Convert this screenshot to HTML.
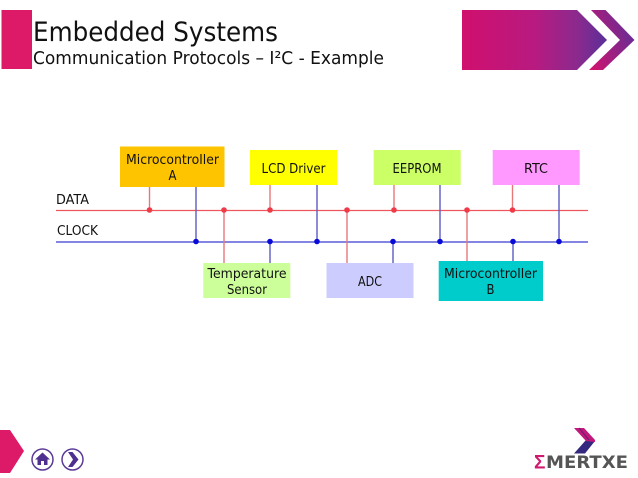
<!DOCTYPE html>
<html>
<head>
<meta charset="utf-8">
<style>
html,body{margin:0;padding:0;background:#fff;width:638px;height:478px;overflow:hidden}
svg{display:block}
text{font-family:"DejaVu Sans","Liberation Sans",sans-serif;fill:#111}
</style>
</head>
<body>
<svg width="638" height="478" viewBox="0 0 638 478" xmlns="http://www.w3.org/2000/svg">
<defs>
<linearGradient id="g" x1="0" y1="0" x2="1" y2="0">
<stop offset="0" stop-color="#d00f6e"/>
<stop offset="0.5" stop-color="#b81a80"/>
<stop offset="0.8" stop-color="#8a2a8e"/>
<stop offset="1" stop-color="#5a2f98"/>
</linearGradient>
<linearGradient id="g2" x1="0" y1="1" x2="1" y2="0.5">
<stop offset="0" stop-color="#d6126c"/>
<stop offset="1" stop-color="#6a2c94"/>
</linearGradient>
</defs>

<!-- header -->
<rect x="1.5" y="10" width="30.5" height="59" fill="#dc1a68"/>
<text x="33" y="41" font-size="27" textLength="245" lengthAdjust="spacingAndGlyphs">Embedded Systems</text>
<text x="33" y="64" font-size="17.5" textLength="351" lengthAdjust="spacingAndGlyphs">Communication Protocols – I²C - Example</text>
<polygon points="462,10 577,10 607,40 577,70 462,70" fill="url(#g)"/>
<polygon points="591,10 605.5,10 634.5,40 603,70 589,70 620,40" fill="url(#g2)"/>

<!-- buses -->
<line x1="56" y1="210.5" x2="588" y2="210.5" stroke="#f0575c" stroke-width="1.2"/>
<line x1="56" y1="242" x2="588" y2="242" stroke="#3a3ad0" stroke-width="1.2"/>
<text x="56" y="204" font-size="13.5" textLength="33" lengthAdjust="spacingAndGlyphs">DATA</text>
<text x="57" y="235" font-size="13.5" textLength="41" lengthAdjust="spacingAndGlyphs">CLOCK</text>

<!-- red connectors -->
<g stroke="#e8777c" stroke-width="1.4">
<line x1="149.5" y1="187" x2="149.5" y2="210"/>
<line x1="224" y1="210" x2="224" y2="263"/>
<line x1="270" y1="185" x2="270" y2="210"/>
<line x1="347" y1="210" x2="347" y2="263"/>
<line x1="394" y1="185" x2="394" y2="210"/>
<line x1="467" y1="210" x2="467" y2="261"/>
<line x1="512.5" y1="185" x2="512.5" y2="210"/>
</g>
<!-- blue connectors -->
<g stroke="#5c5cc4" stroke-width="1.4">
<line x1="196" y1="187" x2="196" y2="242"/>
<line x1="270" y1="242" x2="270" y2="263"/>
<line x1="317" y1="185" x2="317" y2="242"/>
<line x1="393" y1="242" x2="393" y2="263"/>
<line x1="440" y1="185" x2="440" y2="242"/>
<line x1="513" y1="242" x2="513" y2="261"/>
<line x1="559" y1="185" x2="559" y2="242"/>
</g>
<!-- dots -->
<g fill="#ef3b48">
<circle cx="149.5" cy="210" r="2.8"/>
<circle cx="224" cy="210" r="2.8"/>
<circle cx="270" cy="210" r="2.8"/>
<circle cx="347" cy="210" r="2.8"/>
<circle cx="394" cy="210" r="2.8"/>
<circle cx="467" cy="210" r="2.8"/>
<circle cx="512.5" cy="210" r="2.8"/>
</g>
<g fill="#0a0ad8">
<circle cx="196" cy="241.5" r="2.8"/>
<circle cx="270" cy="241.5" r="2.8"/>
<circle cx="317" cy="241.5" r="2.8"/>
<circle cx="393" cy="241.5" r="2.8"/>
<circle cx="440" cy="241.5" r="2.8"/>
<circle cx="513" cy="241.5" r="2.8"/>
<circle cx="559" cy="241.5" r="2.8"/>
</g>

<!-- boxes -->
<rect x="120" y="146.5" width="104.5" height="40.5" fill="#ffc400"/>
<rect x="250" y="150" width="87" height="35" fill="#ffff00"/>
<rect x="373.7" y="150" width="87" height="35" fill="#ccff66"/>
<rect x="492.7" y="150" width="87" height="35" fill="#ff99ff"/>
<rect x="203.3" y="263" width="87" height="35" fill="#ccff99"/>
<rect x="326.5" y="263" width="87" height="35" fill="#ccccff"/>
<rect x="438.7" y="261" width="104.3" height="40" fill="#00cccc"/>

<!-- box labels -->
<g font-size="13.5" text-anchor="middle">
<text x="172.5" y="164" textLength="93" lengthAdjust="spacingAndGlyphs">Microcontroller</text>
<text x="172.5" y="180" textLength="8" lengthAdjust="spacingAndGlyphs">A</text>
<text x="293.5" y="173" textLength="64" lengthAdjust="spacingAndGlyphs">LCD Driver</text>
<text x="417" y="173" textLength="49" lengthAdjust="spacingAndGlyphs">EEPROM</text>
<text x="536" y="173" textLength="24" lengthAdjust="spacingAndGlyphs">RTC</text>
<text x="247" y="278" textLength="79" lengthAdjust="spacingAndGlyphs">Temperature</text>
<text x="247" y="294" textLength="40" lengthAdjust="spacingAndGlyphs">Sensor</text>
<text x="370" y="286" textLength="24" lengthAdjust="spacingAndGlyphs">ADC</text>
<text x="490.5" y="278" textLength="93" lengthAdjust="spacingAndGlyphs">Microcontroller</text>
<text x="490.5" y="294" textLength="8" lengthAdjust="spacingAndGlyphs">B</text>
</g>

<!-- footer left -->
<polygon points="0,430 10,430 24,451 10,473 0,473" fill="#dc1a68"/>
<circle cx="42.5" cy="459.5" r="10.5" fill="#fff" stroke="#5b3a96" stroke-width="1.5"/>
<polygon points="42.5,452.5 50,459.5 47.5,459.5 47.5,465 37.5,465 37.5,459.5 35,459.5" fill="#4f2f8f"/>
<rect x="41" y="461" width="3" height="4" fill="#fff"/>
<circle cx="72.5" cy="459.5" r="10.5" fill="#fff" stroke="#5b3a96" stroke-width="1.5"/>
<polygon points="68,452 72.5,452 78.5,459.5 72.5,467 68,467 73,459.5" fill="#4f2f8f"/>

<!-- footer right logo -->
<polygon points="574,453.5 586,440 595,441 585,453.5" fill="#33287e"/>
<polygon points="574,428 584,428 595,440 595,442 586,441" fill="#c2187e"/>
<line x1="579" y1="428" x2="589" y2="440" stroke="#6a2068" stroke-width="1"/>
<text x="534" y="468.5" font-size="19" font-weight="bold" style="fill:#d01a70;font-family:'Liberation Sans',sans-serif">Σ</text>
<text x="546" y="468" font-size="16.5" font-weight="bold" style="fill:#555" textLength="82" lengthAdjust="spacingAndGlyphs">MERTXE</text>
</svg>
</body>
</html>
